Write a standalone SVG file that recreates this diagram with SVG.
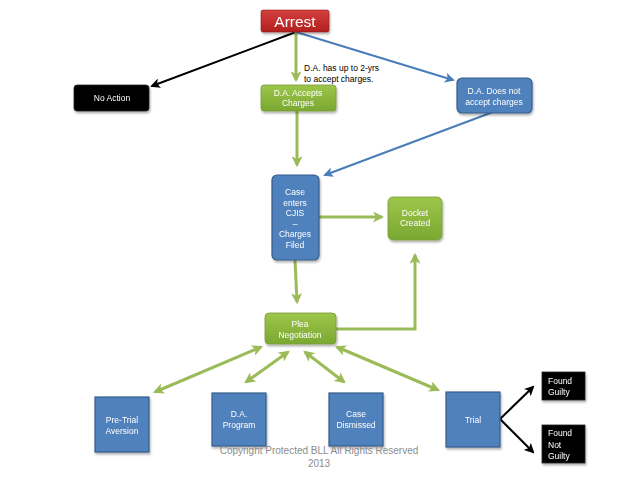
<svg xmlns="http://www.w3.org/2000/svg" width="638" height="478" viewBox="0 0 638 478">
<style>
text{font-family:"Liberation Sans","Open Sans",sans-serif;}
.t{fill:#fff;font-size:8.5px;text-anchor:middle;}
.tl{fill:#fff;font-size:8.5px;}
.g{fill:url(#gg);stroke:#7a9c3a;stroke-width:0.8;}
.b{fill:#4f81bd;stroke:#385d8a;stroke-width:1.2;}
.k{fill:#000;stroke:#222;stroke-width:0.8;}
.cg{stroke:#9bbb59;stroke-width:3;fill:none;}
.cb{stroke:#4a7ebb;stroke-width:2.2;fill:none;}
.ck{stroke:#000;stroke-width:2;fill:none;}
</style>
<defs>
<linearGradient id="gg" x1="0" y1="0" x2="0" y2="1"><stop offset="0" stop-color="#9dc64a"/><stop offset="1" stop-color="#7aa832"/></linearGradient>
<linearGradient id="rg" x1="0" y1="0" x2="0" y2="1"><stop offset="0" stop-color="#d2403d"/><stop offset="1" stop-color="#b3201f"/></linearGradient>
<filter id="sh" x="-20%" y="-20%" width="140%" height="150%"><feDropShadow dx="1" dy="2" stdDeviation="1.2" flood-color="#000" flood-opacity="0.3"/></filter>
<marker id="ag" viewBox="0 0 10 10" refX="8" refY="5" markerWidth="11" markerHeight="11" markerUnits="userSpaceOnUse" orient="auto-start-reverse"><path d="M0,0 L10,5 L0,10 L2.5,5 z" fill="#9bbb59"/></marker>
<marker id="ab" viewBox="0 0 10 10" refX="8" refY="5" markerWidth="10" markerHeight="10" markerUnits="userSpaceOnUse" orient="auto"><path d="M0,0 L10,5 L0,10 L2.5,5 z" fill="#4a7ebb"/></marker>
<marker id="ak" viewBox="0 0 10 10" refX="8" refY="5" markerWidth="10" markerHeight="10" markerUnits="userSpaceOnUse" orient="auto"><path d="M0,0 L10,5 L0,10 L2.5,5 z" fill="#000"/></marker>
</defs>
<rect width="638" height="478" fill="#fff"/>
<g id="connectors">
<line class="ck" x1="296" y1="32" x2="152" y2="86" marker-end="url(#ak)"/>
<line class="cg" x1="296" y1="32" x2="296" y2="80" marker-end="url(#ag)"/>
<line class="cb" x1="296" y1="32" x2="453" y2="80" marker-end="url(#ab)"/>
<line class="cb" x1="493" y1="112" x2="325" y2="175" marker-end="url(#ab)"/>
<line class="cg" x1="297" y1="111" x2="297" y2="165" marker-end="url(#ag)"/>
<line class="cg" x1="319" y1="217" x2="382" y2="217" marker-end="url(#ag)"/>
<line class="cg" x1="295" y1="260" x2="297" y2="302" marker-end="url(#ag)"/>
<polyline class="cg" points="336,329 415,329 415,255" marker-end="url(#ag)"/>
<line class="cg" x1="261" y1="347" x2="155" y2="392" marker-start="url(#ag)" marker-end="url(#ag)"/>
<line class="cg" x1="288" y1="352" x2="246" y2="382" marker-start="url(#ag)" marker-end="url(#ag)"/>
<line class="cg" x1="305" y1="352" x2="344" y2="382" marker-start="url(#ag)" marker-end="url(#ag)"/>
<line class="cg" x1="337" y1="347" x2="438" y2="390" marker-start="url(#ag)" marker-end="url(#ag)"/>
<line class="ck" x1="500" y1="419" x2="533" y2="387" marker-end="url(#ak)"/>
<line class="ck" x1="500" y1="419" x2="533" y2="452" marker-end="url(#ak)"/>
</g>
<g id="arrest" filter="url(#sh)"><rect x="261" y="10" width="68" height="22" rx="2" fill="url(#rg)" stroke="#8c1d1b" stroke-width="0.6"/><text x="295" y="27" fill="#fff" font-size="15.5" text-anchor="middle">Arrest</text></g>
<g id="note"><text x="304" y="71" font-size="8.5" fill="#000">D.A. has up to 2-yrs</text><text x="304" y="82" font-size="8.5" fill="#000">to accept charges.</text></g>
<g id="no-action" filter="url(#sh)"><rect class="k" x="74" y="85" width="75" height="26" rx="3"/><text class="t" x="112" y="101">No Action</text></g>
<g id="da-accepts" filter="url(#sh)"><rect class="g" x="261" y="85" width="75" height="26" rx="3"/><text class="t" x="298" y="96">D.A. Accepts</text><text class="t" x="298" y="106">Charges</text></g>
<g id="da-not" filter="url(#sh)"><rect class="b" x="457" y="78" width="75" height="35" rx="5"/><text class="t" x="494" y="94">D.A. Does not</text><text class="t" x="494" y="105">accept charges</text></g>
<g id="case-enters" filter="url(#sh)"><rect class="b" x="272" y="175" width="47" height="85" rx="5"/>
<text class="t" x="295" y="195">Case</text><text class="t" x="295" y="206">enters</text><text class="t" x="295" y="216">CJIS</text><text class="t" x="295" y="227">–</text><text class="t" x="295" y="237">Charges</text><text class="t" x="295" y="248">Filed</text></g>
<g id="docket" filter="url(#sh)"><rect class="g" x="388" y="197" width="54" height="43" rx="5"/><text class="t" x="415" y="216">Docket</text><text class="t" x="415" y="226">Created</text></g>
<g id="plea" filter="url(#sh)"><rect class="g" x="265" y="313" width="71" height="31" rx="4"/><text class="t" x="300" y="327">Plea</text><text class="t" x="300" y="338">Negotiation</text></g>
<g id="pre-trial" filter="url(#sh)"><rect class="b" x="95" y="397" width="54" height="55"/><text class="t" x="122" y="423">Pre-Trial</text><text class="t" x="122" y="434">Aversion</text></g>
<g id="da-program" filter="url(#sh)"><rect class="b" x="212" y="393" width="54" height="53"/><text class="t" x="239" y="417">D.A.</text><text class="t" x="239" y="428">Program</text></g>
<g id="case-dismissed" filter="url(#sh)"><rect class="b" x="329" y="393" width="54" height="53"/><text class="t" x="356" y="417">Case</text><text class="t" x="356" y="428">Dismissed</text></g>
<g id="trial" filter="url(#sh)"><rect class="b" x="446" y="392" width="54" height="55"/><text class="t" x="473" y="423">Trial</text></g>
<g id="found-guilty" filter="url(#sh)"><rect class="k" x="542" y="372" width="43" height="28"/><text class="tl" x="548" y="384">Found</text><text class="tl" x="548" y="395">Guilty</text></g>
<g id="found-not-guilty" filter="url(#sh)"><rect class="k" x="542" y="425" width="43" height="38"/><text class="tl" x="548" y="436">Found</text><text class="tl" x="548" y="448">Not</text><text class="tl" x="548" y="459">Guilty</text></g>
<g id="copyright"><text x="319" y="454" font-size="10" fill="#8c8c8c" text-anchor="middle">Copyright Protected BLL All Rights Reserved</text><text x="319" y="467" font-size="10" fill="#8c8c8c" text-anchor="middle">2013</text></g>
</svg>
